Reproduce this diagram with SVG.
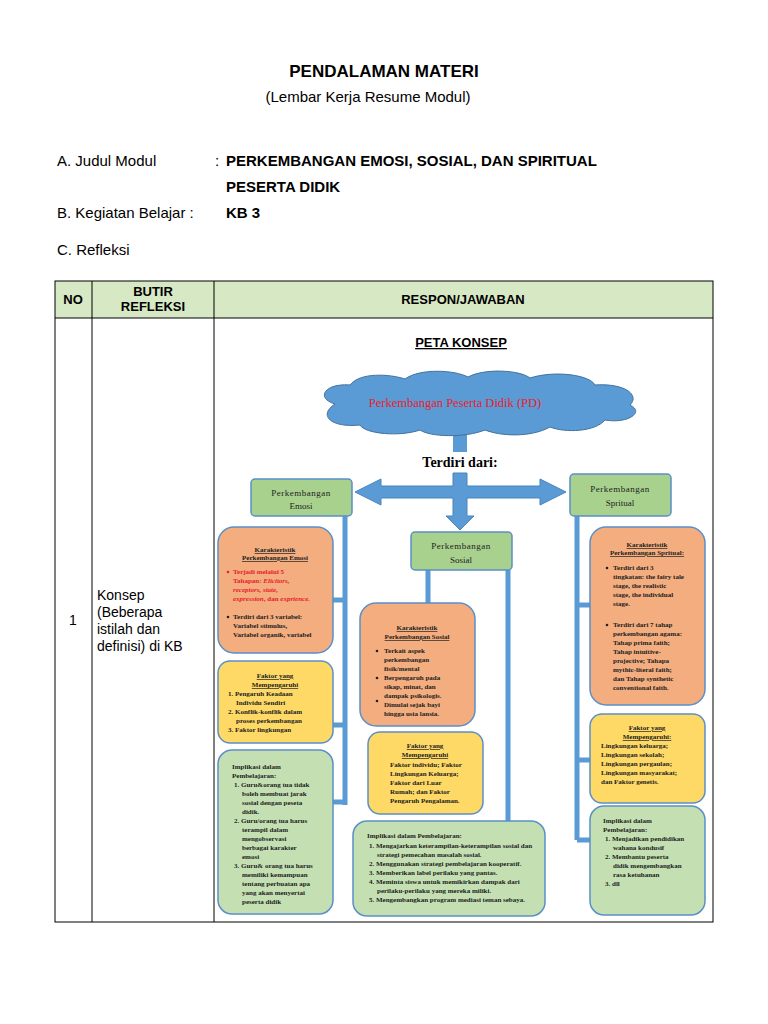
<svg xmlns="http://www.w3.org/2000/svg" width="768" height="1024" viewBox="0 0 768 1024">
<style>
.s{font-family:"Liberation Sans",Arial,sans-serif;fill:#000}
.m{font-family:"Liberation Serif","DejaVu Serif",serif;fill:#222}
.t{font-size:7px;font-weight:bold}
.h{font-size:7px;font-weight:bold;text-decoration:underline}
.box{stroke:#5b8fc7;stroke-width:1.5}
.o{fill:#f3ad7f}.y{fill:#ffd966}.g{fill:#c4e0b2}.gn{fill:#a9d18e}
.ln{stroke:#5b9bd5;stroke-width:5;fill:none}
</style>
<rect width="768" height="1024" fill="#fff"/>
<text class="s" x="384" y="77" font-size="17" font-weight="bold" text-anchor="middle">PENDALAMAN MATERI</text>
<text class="s" x="368" y="102" font-size="15" text-anchor="middle">(Lembar Kerja Resume Modul)</text>
<text class="s" x="57" y="166" font-size="15">A. Judul Modul</text>
<text class="s" x="215" y="166" font-size="15">:</text>
<text class="s" x="226" y="166" font-size="15" font-weight="bold">PERKEMBANGAN EMOSI, SOSIAL, DAN SPIRITUAL</text>
<text class="s" x="226" y="192" font-size="15" font-weight="bold">PESERTA DIDIK</text>
<text class="s" x="57" y="218" font-size="15">B. Kegiatan Belajar :</text>
<text class="s" x="226" y="218" font-size="15" font-weight="bold">KB 3</text>
<text class="s" x="57" y="255" font-size="15">C. Refleksi</text>
<g id="table">
<rect x="55" y="281" width="658" height="37" fill="#d6e8c4"/>
<rect x="55" y="281" width="658" height="641" fill="none" stroke="#000" stroke-width="1"/>
<line x1="55" y1="318" x2="713" y2="318" stroke="#000"/>
<line x1="92" y1="281" x2="92" y2="922" stroke="#000"/>
<line x1="214" y1="281" x2="214" y2="922" stroke="#000"/>
<text class="s" x="73" y="304" font-size="13" font-weight="bold" text-anchor="middle">NO</text>
<text class="s" x="153" y="296" font-size="13" font-weight="bold" text-anchor="middle">BUTIR</text>
<text class="s" x="153" y="311" font-size="13" font-weight="bold" text-anchor="middle">REFLEKSI</text>
<text class="s" x="463" y="304" font-size="13" font-weight="bold" text-anchor="middle">RESPON/JAWABAN</text>
<text class="s" x="73" y="625" font-size="14" text-anchor="middle">1</text>
<text class="s" x="97" y="600" font-size="14">Konsep</text>
<text class="s" x="97" y="617" font-size="14">(Beberapa</text>
<text class="s" x="97" y="634" font-size="14">istilah dan</text>
<text class="s" x="97" y="651" font-size="14">definisi) di KB</text>
<text class="s" x="461" y="347" font-size="13" font-weight="bold" text-anchor="middle" text-decoration="underline">PETA KONSEP</text>
</g>
<g id="connectors">
<rect x="453" y="430" width="14" height="22" fill="#5b9bd5"/>
<path d="M453,473 H467 V486 H540 V479 L566,492 L540,505 V498 H467 V516 H474 L460,530 L446,516 H453 V498 H381 V505 L355,492 L381,479 V486 H453 Z" fill="#5b9bd5" stroke="#4a84bb" stroke-width="1"/>
<path class="ln" d="M345,516 V805 M333,600 H345 M333,725 H345 M333,802 H345"/>
<path class="ln" d="M428,570 V603 M508,570 V821"/>
<path class="ln" d="M577,516 V840 M577,605 H590 M577,760 H590 M577,840 H590"/>
</g>
<g id="cloud">
<path d="M335,404 C315,398 325,383 350,385 C360,372 390,374 405,379 C420,368 455,370 468,377 C485,368 520,370 530,378 C555,370 590,375 595,385 C625,383 640,395 630,405 C645,412 628,424 605,420 C595,432 565,433 550,427 C530,438 500,436 485,430 C465,438 430,437 420,430 C400,437 365,434 360,425 C330,428 318,415 335,404 Z" fill="#5b9bd5" stroke="#41719c" stroke-width="1"/>
<text class="m" x="455" y="407" font-size="12.5" fill="#e8202a" style="fill:#e8202a" text-anchor="middle">Perkembangan Peserta Didik (PD)</text>
</g>
<text class="m" x="460" y="467" font-size="14" font-weight="bold" text-anchor="middle" style="fill:#000">Terdiri dari:</text>
<g id="emosi">
<rect class="box gn" x="251" y="479" width="101" height="37" rx="4"/>
<text class="m" x="301" y="496" font-size="9" text-anchor="middle" letter-spacing="0.5">Perkembangan</text>
<text class="m" x="301" y="509" font-size="9" text-anchor="middle">Emosi</text>
</g>
<g id="sosial">
<rect class="box gn" x="411" y="532" width="101" height="38" rx="4"/>
<text class="m" x="461" y="549" font-size="9" text-anchor="middle" letter-spacing="0.5">Perkembangan</text>
<text class="m" x="461" y="563" font-size="9" text-anchor="middle">Sosial</text>
</g>
<g id="spiritual">
<rect class="box gn" x="570" y="474" width="101" height="42" rx="4"/>
<text class="m" x="620" y="492" font-size="9" text-anchor="middle" letter-spacing="0.5">Perkembangan</text>
<text class="m" x="620" y="506" font-size="9" text-anchor="middle">Spritual</text>
</g>
<g id="emosi-karakteristik">
<rect class="box o" x="218" y="527" width="115" height="126" rx="16"/>
<text class="m h" x="275" y="552" text-anchor="middle">Karakteristik</text>
<text class="m h" x="275" y="560" text-anchor="middle">Perkembangan Emosi</text>
<circle cx="228" cy="572" r="1.3" fill="#e8202a"/>
<text class="m t" x="233" y="574" style="fill:#e8202a">Terjadi melalui 5</text>
<text class="m t" x="233" y="583" style="fill:#e8202a">Tahapan: <tspan font-style="italic">Elicitors,</tspan></text>
<text class="m t" x="233" y="592" font-style="italic" style="fill:#e8202a">receptors, state,</text>
<text class="m t" x="233" y="601" style="fill:#e8202a"><tspan font-style="italic">expression</tspan>, dan <tspan font-style="italic">exprience.</tspan></text>
<circle cx="228" cy="617" r="1.3" fill="#222"/>
<text class="m t" x="233" y="619">Terdiri dari 3 variabel:</text>
<text class="m t" x="233" y="628">Variabel stimulus,</text>
<text class="m t" x="233" y="637">Variabel organik, variabel</text>
</g>
<g id="emosi-faktor">
<rect class="box y" x="218" y="661" width="115" height="82" rx="12"/>
<text class="m h" x="275" y="678" text-anchor="middle">Faktor yang</text>
<text class="m h" x="275" y="687" text-anchor="middle">Mempengaruhi</text>
<text class="m t" x="228" y="696">1. Pengaruh Keadaan</text>
<text class="m t" x="236" y="705">Individu Sendiri</text>
<text class="m t" x="228" y="714">2. Konflik-konflik dalam</text>
<text class="m t" x="236" y="723">proses perkembangan</text>
<text class="m t" x="228" y="732">3. Faktor lingkungan</text>
</g>
<g id="emosi-implikasi">
<rect class="box g" x="218" y="750" width="115" height="164" rx="14"/>
<text class="m t" x="232" y="769">Implikasi dalam</text>
<text class="m t" x="232" y="778">Pembelajaran:</text>
<text class="m t" x="234" y="787">1. Guru&amp;orang tua tidak</text>
<text class="m t" x="242" y="796">boleh membuat jarak</text>
<text class="m t" x="242" y="805">sosial dengan peseta</text>
<text class="m t" x="242" y="814">didik.</text>
<text class="m t" x="234" y="823">2. Guru/orang tua harus</text>
<text class="m t" x="242" y="832">terampil dalam</text>
<text class="m t" x="242" y="841">mengobservasi</text>
<text class="m t" x="242" y="850">berbagai karakter</text>
<text class="m t" x="242" y="859">emosi</text>
<text class="m t" x="234" y="868">3. Guru&amp; orang tua harus</text>
<text class="m t" x="242" y="877">memiliki kemampuan</text>
<text class="m t" x="242" y="886">tentang perbuatan apa</text>
<text class="m t" x="242" y="895">yang akan menyertai</text>
<text class="m t" x="242" y="904">peserta didik</text>
</g>
<g id="sosial-karakteristik">
<rect class="box o" x="360" y="603" width="115" height="123" rx="16"/>
<text class="m h" x="417" y="630" text-anchor="middle">Karakteristik</text>
<text class="m h" x="417" y="639" text-anchor="middle">Perkembangan Sosial</text>
<g fill="#222"><circle cx="377" cy="651" r="1.3"/><circle cx="377" cy="678" r="1.3"/><circle cx="377" cy="701" r="1.3"/></g>
<text class="m t" x="384" y="653">Terkait aspek</text>
<text class="m t" x="384" y="662">perkembangan</text>
<text class="m t" x="384" y="671">fisik/mental</text>
<text class="m t" x="384" y="680">Berpengaruh pada</text>
<text class="m t" x="384" y="689">sikap, minat, dan</text>
<text class="m t" x="384" y="698">dampak psikologis.</text>
<text class="m t" x="384" y="707">Dimulai sejak bayi</text>
<text class="m t" x="384" y="716">hingga usia lansia.</text>
</g>
<g id="sosial-faktor">
<rect class="box y" x="368" y="732" width="115" height="82" rx="12"/>
<text class="m h" x="425" y="748" text-anchor="middle">Faktor yang</text>
<text class="m h" x="425" y="757" text-anchor="middle">Mempengaruhi</text>
<text class="m t" x="390" y="767">Faktor individu; Faktor</text>
<text class="m t" x="390" y="776">Lingkungan Keluarga;</text>
<text class="m t" x="390" y="785">Faktor dari Luar</text>
<text class="m t" x="390" y="794">Rumah; dan Faktor</text>
<text class="m t" x="390" y="803">Pengaruh Pengalaman.</text>
</g>
<g id="sosial-implikasi">
<rect class="box g" x="353" y="821" width="192" height="95" rx="14"/>
<text class="m t" x="367" y="838">Implikasi dalam Pembelajaran:</text>
<text class="m t" x="369" y="848">1. Mengajarkan keterampilan-keterampilan sosial dan</text>
<text class="m t" x="377" y="857">strategi pemecahan masalah sosial.</text>
<text class="m t" x="369" y="866">2. Menggunakan strategi pembelajaran kooperatif.</text>
<text class="m t" x="369" y="875">3. Memberikan label perilaku yang pantas.</text>
<text class="m t" x="369" y="884">4. Meminta siswa untuk memikirkan dampak dari</text>
<text class="m t" x="377" y="893">perilaku-perilaku yang mereka miliki.</text>
<text class="m t" x="369" y="902">5. Mengembangkan program mediasi teman sebaya.</text>
</g>
<g id="spiritual-karakteristik">
<rect class="box o" x="590" y="527" width="115" height="178" rx="16"/>
<text class="m h" x="647" y="547" text-anchor="middle">Karakteristik</text>
<text class="m h" x="647" y="555" text-anchor="middle">Perkembangan Spritual:</text>
<g fill="#222"><circle cx="607" cy="568" r="1.3"/><circle cx="607" cy="625" r="1.3"/></g>
<text class="m t" x="613" y="570">Terdiri dari 3</text>
<text class="m t" x="613" y="579">tingkatan: the fairy tale</text>
<text class="m t" x="613" y="588">stage, the realistic</text>
<text class="m t" x="613" y="597">stage, the individual</text>
<text class="m t" x="613" y="606">stage.</text>
<text class="m t" x="613" y="627">Terdiri dari 7 tahap</text>
<text class="m t" x="613" y="636">perkembangan agama:</text>
<text class="m t" x="613" y="645">Tahap prima faith;</text>
<text class="m t" x="613" y="654">Tahap intuitive-</text>
<text class="m t" x="613" y="663">projective; Tahapa</text>
<text class="m t" x="613" y="672">mythic-literal faith;</text>
<text class="m t" x="613" y="681">dan Tahap synthetic</text>
<text class="m t" x="613" y="690">conventional faith.</text>
</g>
<g id="spiritual-faktor">
<rect class="box y" x="590" y="714" width="115" height="89" rx="12"/>
<text class="m h" x="647" y="730" text-anchor="middle">Faktor yang</text>
<text class="m h" x="647" y="739" text-anchor="middle">Mempengaruhi:</text>
<text class="m t" x="601" y="748">Lingkungan keluarga;</text>
<text class="m t" x="601" y="757">Lingkungan sekolah;</text>
<text class="m t" x="601" y="766">Lingkungan pergaulan;</text>
<text class="m t" x="601" y="775">Lingkungan masyarakat;</text>
<text class="m t" x="601" y="784">dan Faktor genetis.</text>
</g>
<g id="spiritual-implikasi">
<rect class="box g" x="590" y="806" width="115" height="109" rx="14"/>
<text class="m t" x="603" y="823">Implikasi dalam</text>
<text class="m t" x="603" y="832">Pembelajaran:</text>
<text class="m t" x="605" y="841">1. Menjadikan pendidikan</text>
<text class="m t" x="613" y="850">wahana kondusif</text>
<text class="m t" x="605" y="859">2. Membantu peserta</text>
<text class="m t" x="613" y="868">didik mengembangkan</text>
<text class="m t" x="613" y="877">rasa ketuhanan</text>
<text class="m t" x="605" y="886">3. dll</text>
</g>
</svg>
